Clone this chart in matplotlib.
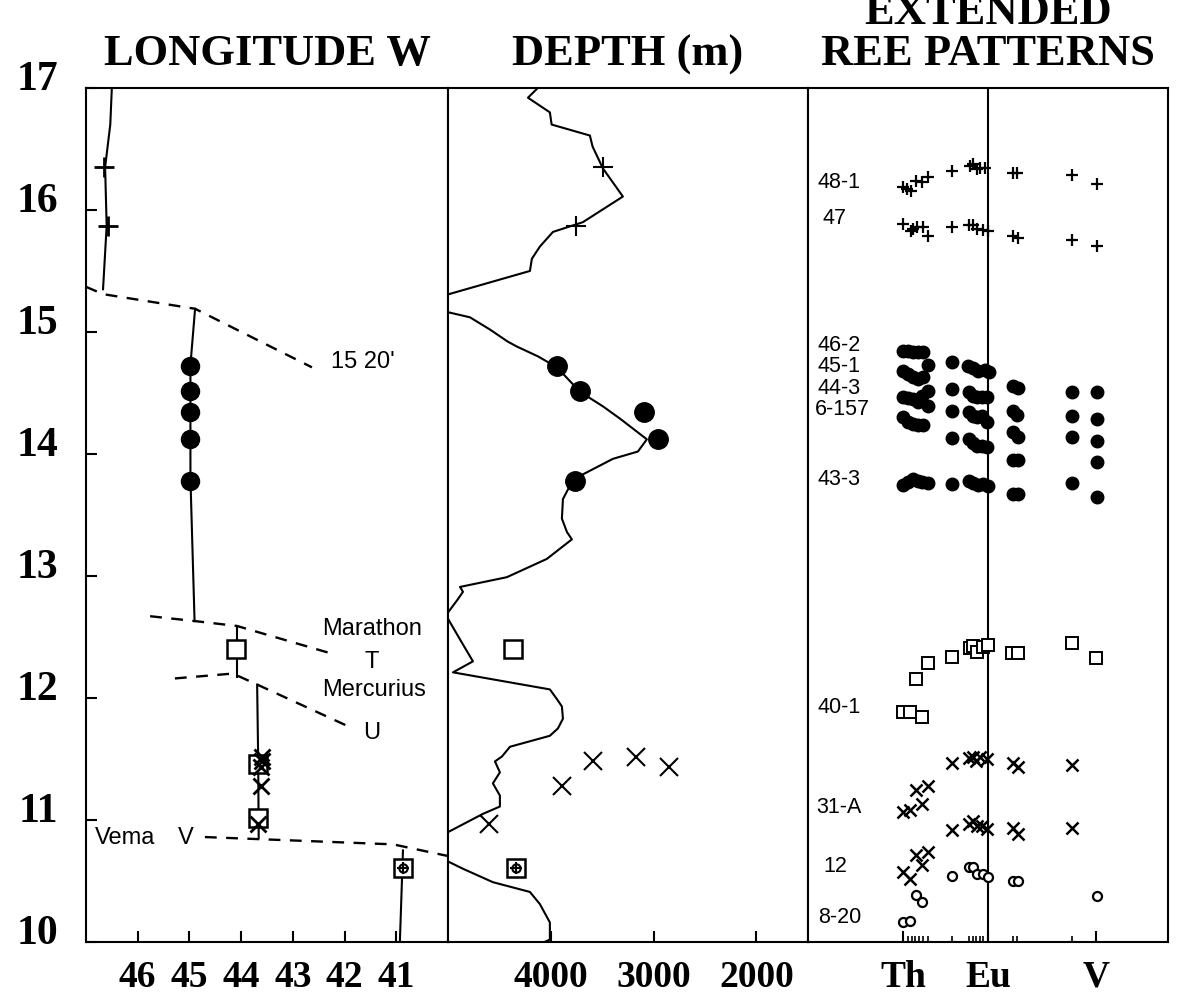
import numpy as np
import matplotlib.pyplot as plt
from matplotlib.transforms import ScaledTranslation

# ---- axes values ----
lat_ticks = [10, 11, 12, 13, 14, 15, 16, 17]
lon_ticks = [46, 45, 44, 43, 42, 41]
depth_ticks = [4000, 3000, 2000]

# ---- longitude panel: ridge axis (solid) ----
axis_lat = [[17.0, 16.70, 16.35, 15.87, 15.35],
            [15.19, 14.73, 13.80, 12.63],
            [12.59, 12.17],
            [12.11, 11.50, 10.85],
            [10.75, 10.00]]
axis_lon = [[46.50, 46.53, 46.63, 46.60, 46.67],
            [44.89, 44.98, 44.98, 44.90],
            [44.08, 44.08],
            [43.69, 43.67, 43.66],
            [40.87, 40.93]]

# fracture zones (dashed)
fz_lat = [[15.37, 15.31, 15.19, 14.71],
          [12.67, 12.63, 12.59, 12.36],
          [12.16, 12.20, 12.11, 11.76],
          [10.86, 10.80, 10.70]]
fz_lon = [[47.0, 46.67, 44.89, 42.63],
          [45.76, 44.89, 44.08, 42.22],
          [45.28, 44.16, 43.69, 41.89],
          [44.70, 41.06, 39.95]]

# samples
plus_lat = [16.35, 15.87]
plus_lon = [46.65, 46.57]
plus_depth = [3493, 3756]

dot_lat = [14.72, 14.52, 14.34, 14.12, 13.78]
dot_lon = [44.99, 44.99, 44.99, 44.99, 44.99]
dot_depth = [3940, 3717, 3094, 2958, 3765]

sq_lat = [12.40, 11.46, 11.02, 10.61]
sq_lon = [44.10, 43.67, 43.67, 40.87]
sq_depth_lat = [12.40, 10.61]
sq_depth = [4368, 4339]

x_lat = [11.52, 11.48, 11.43, 11.28, 10.97]
x_lon = [43.60, 43.60, 43.62, 43.62, 43.67]
x_depth = [3172, 3590, 2851, 3892, 4601]

# ---- depth profile along axis ----
prof_lat = [16.99, 16.92, 16.80, 16.70, 16.61, 16.52, 16.34, 16.11, 15.90, 15.82,
            15.70, 15.60, 15.50, 15.31, 15.24, 15.16, 15.12, 15.02, 14.92, 14.88,
            14.80, 14.71, 14.51, 14.39, 14.29, 14.12, 14.02, 13.96, 13.82, 13.74,
            13.63, 13.47, 13.36, 13.30, 13.14, 12.99, 12.91, 12.87, 12.81, 12.70,
            12.65, 12.48, 12.30, 12.21, 12.07, 11.99, 11.93, 11.83, 11.75, 11.69,
            11.60, 11.52, 11.48, 11.39, 11.30, 11.20, 11.11, 11.05, 10.90, 10.78,
            10.66, 10.60, 10.49, 10.41, 10.31, 10.16, 10.02, 9.99]
prof_depth = [4138, 4222, 4009, 3992, 3620, 3594, 3493, 3299, 3688, 3979,
              4106, 4184, 4203, 4990, 5400, 4990, 4786, 4592, 4417, 4329,
              4125, 3940, 3717, 3493, 3328, 3066, 3153, 3396, 3717, 3814,
              3882, 3892, 3843, 3795, 4038, 4427, 4883, 4854, 4903, 5000,
              5000, 4883, 4757, 4951, 4009, 3940, 3892, 3882, 3931, 4009,
              4397, 4475, 4543, 4495, 4563, 4495, 4495, 4660, 5000, 5600,
              5000, 4854, 4563, 4203, 4106, 4009, 4009, 4086]

# ---- extended REE patterns (offset patterns) ----
ree_ticks = [9.5, 10.0, 10.4, 10.7, 11.1, 11.5, 12.0, 14.4, 16.1, 16.5,
             16.8, 17.2, 17.5, 18.0, 20.5, 20.9, 26.4, 28.8]
ree_labels = ['Th', 'Eu', 'V']
ree_label_pos = [9.5, 18.0, 28.8]

p48_x = [9.5, 9.9, 10.3, 10.8, 11.4, 12.0, 14.4, 16.2, 16.5, 16.9, 17.2, 17.7, 20.5, 20.9, 26.4, 28.9]
p48_y = [16.186, 16.172, 16.158, 16.240, 16.227, 16.273, 16.322, 16.358, 16.377, 16.336,
         16.342, 16.342, 16.303, 16.301, 16.287, 16.213]
p47_x = [9.5, 10.3, 10.5, 10.9, 11.5, 12.0, 14.4, 16.1, 16.5, 16.9, 17.5, 18.0, 20.5, 21.0, 26.4, 28.9]
p47_y = [15.885, 15.830, 15.844, 15.858, 15.858, 15.784, 15.858, 15.877, 15.877, 15.844,
         15.839, 15.830, 15.784, 15.768, 15.757, 15.707]

p462_x = [9.5, 10.0, 10.5, 11.0, 11.5]
p462_y = [14.847, 14.842, 14.838, 14.834, 14.834]
p451_x = [9.5, 10.0, 10.5, 11.0, 11.5, 12.0, 14.4, 16.0, 16.5, 17.0, 17.7, 18.1, 20.5, 21.0, 26.4, 28.9]
p451_y = [14.683, 14.656, 14.629, 14.615, 14.629, 14.730, 14.752, 14.724, 14.702, 14.683,
          14.691, 14.670, 14.555, 14.543, 14.506, 14.506]
p443_x = [9.5, 10.0, 10.5, 11.0, 11.4, 12.0, 14.4, 16.1, 16.5, 16.9, 17.4, 17.9, 20.5, 20.9, 26.4, 28.9]
p443_y = [14.465, 14.457, 14.451, 14.429, 14.478, 14.519, 14.533, 14.506, 14.478, 14.465,
          14.465, 14.465, 14.352, 14.320, 14.311, 14.287]
p6157_x = [9.5, 10.0, 10.5, 11.0, 11.5, 12.0, 14.4, 16.1, 16.5, 16.9, 17.4, 17.9, 20.5, 21.0, 26.4, 28.9]
p6157_y = [14.301, 14.265, 14.246, 14.238, 14.240, 14.396, 14.355, 14.342, 14.314, 14.301,
           14.309, 14.265, 14.178, 14.137, 14.137, 14.109]
pD_x = [14.4, 16.1, 16.5, 16.9, 17.4, 17.9, 20.5, 21.0, 28.9]
pD_y = [14.129, 14.123, 14.088, 14.068, 14.068, 14.055, 13.953, 13.953, 13.932]
p433_x = [9.5, 10.0, 10.5, 11.0, 11.4, 12.0, 14.4, 16.1, 16.5, 17.0, 17.5, 18.0, 20.5, 21.0, 26.4, 28.9]
p433_y = [13.746, 13.773, 13.795, 13.781, 13.773, 13.762, 13.754, 13.781, 13.762, 13.746,
          13.754, 13.740, 13.672, 13.672, 13.762, 13.645]

p401_x = [9.5, 10.2, 10.8, 11.4, 12.0, 14.4, 16.2, 16.5, 16.9, 17.5, 18.0, 20.4, 21.0, 26.4, 28.8]
p401_y = [11.888, 11.883, 12.156, 11.847, 12.284, 12.339, 12.407, 12.423, 12.380, 12.416,
          12.434, 12.366, 12.366, 12.451, 12.325]

p31a_x = [9.5, 10.2, 10.8, 11.4, 12.0, 14.4, 16.1, 16.5, 16.8, 17.2, 17.9, 20.5, 21.0, 26.4]
p31a_y = [11.063, 11.085, 11.248, 11.131, 11.281, 11.467, 11.508, 11.514, 11.486, 11.514,
          11.500, 11.465, 11.432, 11.453]
p12_x = [9.5, 10.2, 10.8, 11.4, 12.0, 14.4, 16.1, 16.5, 16.9, 17.4, 17.9, 20.5, 21.0, 26.4]
p12_y = [10.576, 10.516, 10.713, 10.631, 10.735, 10.920, 10.967, 10.994, 10.948, 10.948,
         10.926, 10.932, 10.885, 10.932]
p820_x = [9.5, 10.2, 10.8, 11.4, 14.4, 16.1, 16.5, 16.9, 17.5, 18.0, 20.5, 21.0, 28.9]
p820_y = [10.166, 10.175, 10.385, 10.325, 10.543, 10.617, 10.612, 10.557, 10.557, 10.530,
          10.502, 10.502, 10.375]

sample_names = ['48-1', '47', '46-2', '45-1', '44-3', '6-157', '43-3', '40-1', '31-A', '12', '8-20']
sample_name_lat = [16.23, 15.94, 14.90, 14.725, 14.545, 14.37, 13.80, 11.93, 11.11, 10.63, 10.21]
sample_name_x = [1.0, 1.5, 1.0, 1.0, 1.0, 0.7, 1.0, 1.0, 0.8, 1.5, 1.0]

# ---- figure ----
serif = 'Liberation Serif'
sans = 'Liberation Sans'
fig = plt.figure(figsize=(11.81, 9.95), dpi=100)
bot, h = 0.0523, 0.8583
ax1 = fig.add_axes([0.0728, bot, 0.3065, h])
ax2 = fig.add_axes([0.3793, bot, 0.3048, h], sharey=ax1)
ax3 = fig.add_axes([0.6841, bot, 0.3048, h], sharey=ax1)

lw = 1.5
for ax in (ax1, ax2, ax3):
    for s in ax.spines.values():
        s.set_linewidth(lw)
    ax.set_ylim(10, 17)
    ax.tick_params(direction='in', width=lw, length=8)

# panel 1: longitude
for la, lo in zip(axis_lat, axis_lon):
    ax1.plot(lo, la, color='black', lw=lw)
for la, lo in zip(fz_lat, fz_lon):
    ax1.plot(lo, la, color='black', lw=1.7, ls=(0, (5, 4)), clip_on=False)
ax1.plot(plus_lon, plus_lat, '+', color='black', ms=14, mew=2)
ax1.plot(dot_lon, dot_lat, 'o', color='black', ms=13)
ax1.plot(sq_lon, sq_lat, 's', mfc='white', mec='black', ms=13, mew=1.8)
ax1.plot(x_lon, x_lat, 'x', color='black', ms=12, mew=2)
ax1.plot(sq_lon[-1:], sq_lat[-1:], '+', color='black', ms=8, mew=1.5)
ax1.plot(sq_lon[-1:], sq_lat[-1:], 'o', mfc='none', mec='black', ms=6, mew=1.5)

fs_lab = 17
ax1.text(41.64, 14.76, "15 20'", fontsize=fs_lab, family=sans, ha='center', va='center')
ax1.text(41.47, 12.57, 'Marathon', fontsize=fs_lab, family=sans, ha='center', va='center')
ax1.text(41.47, 12.30, 'T', fontsize=fs_lab, family=sans, ha='center', va='center')
ax1.text(41.42, 12.07, 'Mercurius', fontsize=fs_lab, family=sans, ha='center', va='center')
ax1.text(41.47, 11.72, 'U', fontsize=fs_lab, family=sans, ha='center', va='center')
ax1.text(46.82, 10.86, 'Vema', fontsize=fs_lab, family=sans, ha='left', va='center')
ax1.text(45.07, 10.86, 'V', fontsize=fs_lab, family=sans, ha='center', va='center')

ax1.set_xlim(47, 40)
ax1.set_xticks(lon_ticks)
ax1.set_xticklabels([str(v) for v in lon_ticks])
ax1.set_yticks(lat_ticks)
ax1.set_yticklabels([str(v) for v in lat_ticks])
ax1.tick_params(axis='y', pad=20, labelsize=30)
ax1.tick_params(axis='x', pad=12, labelsize=27)
for lab in ax1.get_yticklabels():
    lab.set_transform(lab.get_transform() + ScaledTranslation(0, 0.13, fig.dpi_scale_trans))
ax1.set_title('LONGITUDE W', fontsize=32, fontweight='bold', family=serif, pad=17)

# panel 2: depth
ax2.plot(prof_depth, prof_lat, color='black', lw=lw)
ax2.plot(plus_depth, plus_lat, '+', color='black', ms=14, mew=1.5)
ax2.plot(dot_depth, dot_lat, 'o', color='black', ms=14)
ax2.plot(sq_depth, sq_depth_lat, 's', mfc='white', mec='black', ms=13, mew=1.8)
ax2.plot(sq_depth[-1:], sq_depth_lat[-1:], '+', color='black', ms=8, mew=1.5)
ax2.plot(sq_depth[-1:], sq_depth_lat[-1:], 'o', mfc='none', mec='black', ms=6, mew=1.5)
ax2.plot(x_depth, x_lat, 'x', color='black', ms=13, mew=1.5)
ax2.set_xlim(5000, 1500)
ax2.set_xticks(depth_ticks)
ax2.set_xticklabels([str(v) for v in depth_ticks])
ax2.tick_params(axis='x', pad=12, labelsize=27)
ax2.tick_params(axis='y', left=False, labelleft=False)
ax2.set_title('DEPTH (m)', fontsize=32, fontweight='bold', family=serif, pad=17)

# panel 3: REE patterns
ax3.axvline(18.0, color='black', lw=lw)
ax3.plot(p48_x, p48_y, '+', color='black', ms=9, mew=1.6)
ax3.plot(p47_x, p47_y, '+', color='black', ms=9, mew=1.6)
for px, py in [(p462_x, p462_y), (p451_x, p451_y), (p443_x, p443_y),
               (p6157_x, p6157_y), (pD_x, pD_y), (p433_x, p433_y)]:
    ax3.plot(px, py, 'o', color='black', ms=9)
ax3.plot(p401_x, p401_y, 's', mfc='white', mec='black', ms=8, mew=1.4)
ax3.plot(p31a_x, p31a_y, 'x', color='black', ms=8, mew=1.8)
ax3.plot(p12_x, p12_y, 'x', color='black', ms=8, mew=1.8)
ax3.plot(p820_x, p820_y, 'o', mfc='white', mec='black', ms=6.5, mew=1.6)
for name, y, x in zip(sample_names, sample_name_lat, sample_name_x):
    ax3.text(x, y, name, fontsize=15.5, family=sans, ha='left', va='center')

ax3.set_xlim(0, 36)
ax3.set_xticks(ree_label_pos)
ax3.set_xticklabels(ree_labels)
ax3.set_xticks(ree_ticks, minor=True)
ax3.tick_params(axis='x', which='major', pad=12, labelsize=27, length=8)
ax3.tick_params(axis='x', which='minor', direction='in', length=4, width=1.2)
ax3.tick_params(axis='y', left=False, labelleft=False)
ax3.set_title('EXTENDED\nREE PATTERNS', fontsize=32, fontweight='bold', family=serif,
              pad=17, linespacing=1.05)

for ax in (ax1, ax2, ax3):
    for lab in ax.get_xticklabels() + ax.get_yticklabels():
        lab.set_family(serif)
        lab.set_fontweight('bold')

fig.savefig('out.png', dpi=100)
